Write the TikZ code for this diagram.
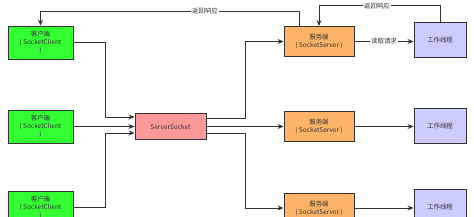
\documentclass[tikz,border=0pt]{standalone}
\usepackage{fontspec}
\setmainfont{Noto Sans CJK SC}
\usetikzlibrary{arrows.meta}
\definecolor{cgreen}{HTML}{33FF33}
\definecolor{cpink}{HTML}{FF9999}
\definecolor{corange}{HTML}{FFB366}
\definecolor{cviolet}{HTML}{CCCCFF}
\definecolor{cline}{HTML}{333333}
\begin{document}
\begin{tikzpicture}[x=1bp,y=-1bp,
  box/.style={draw=cline, line width=0.9bp, inner sep=0pt, align=center, text=cline,
     font=\fontsize{6.5}{8}\selectfont},
  client/.style={box, fill=cgreen, minimum width=65bp, minimum height=33bp},
  sock/.style={box, fill=cpink, minimum width=71bp, minimum height=26bp},
  server/.style={box, fill=corange, minimum width=70bp, minimum height=30bp},
  worker/.style={box, fill=cviolet, minimum width=52bp, minimum height=35bp},
  arr/.style={draw=cline, line width=0.9bp, -{Stealth[length=6bp,width=5bp]}},
  lbl/.style={fill=white, inner sep=1bp, text=cline, font=\fontsize{6.5}{7.5}\selectfont}
]
\useasboundingbox (0,0) rectangle (474,216);
\node[client] (c1) at (40.5,42.5) {客户端\\( SocketClient\\)};
\node[client] (c2) at (40.5,126.5) {客户端\\( SocketClient\\)};
\node[client] (c3) at (40.5,207.5) {客户端\\( SocketClient\\)};
\node[sock] (ss) at (170.5,126.5) {ServerSocket};
\node[server] (s1) at (319,41.5) {服务端\\( SocketServer )};
\node[server] (s2) at (319,126.5) {服务端\\( SocketServer )};
\node[server] (s3) at (319,208) {服务端\\( SocketServer )};
\node[worker] (w1) at (440,40) {工作线程};
\node[worker] (w2) at (440,126) {工作线程};
\node[worker] (w3) at (440,207) {工作线程};
% clients to ServerSocket
\draw[arr] (c1.east) -- ++(32,0) |- ([yshift=9.5bp]ss.west);
\draw[arr] (c2.east) -- (ss.west);
\draw[arr] (c3.east) -- ++(32,0) |- ([yshift=-6.5bp]ss.west);
% ServerSocket to servers
\draw[arr] ([yshift=8.5bp]ss.east) -- ++(39,0) |- (s1.west);
\draw[arr] (ss.east) -- (s2.west);
\draw[arr] ([yshift=-6.5bp]ss.east) -- ++(39,0) |- (s3.west);
% servers to workers
\draw[arr] (s1.east) -- node[lbl]{读取请求} (s1.east -| w1.west);
\draw[arr] (s2.east) -- (s2.east -| w2.west);
\draw[arr] (s3.east) -- (s3.east -| w3.west);
% return responses
\draw[arr] ([xshift=-20bp]s1.north) -- ++(0,-15) -| (c1.north);
\node[lbl] (r1) at (205,11) {返回响应};
\draw[arr] (w1.north) -- ++(0,-16.5) -| ([xshift=0bp]s1.north);
\node[lbl] (r2) at (377,6) {返回响应};
\end{tikzpicture}
\end{document}
